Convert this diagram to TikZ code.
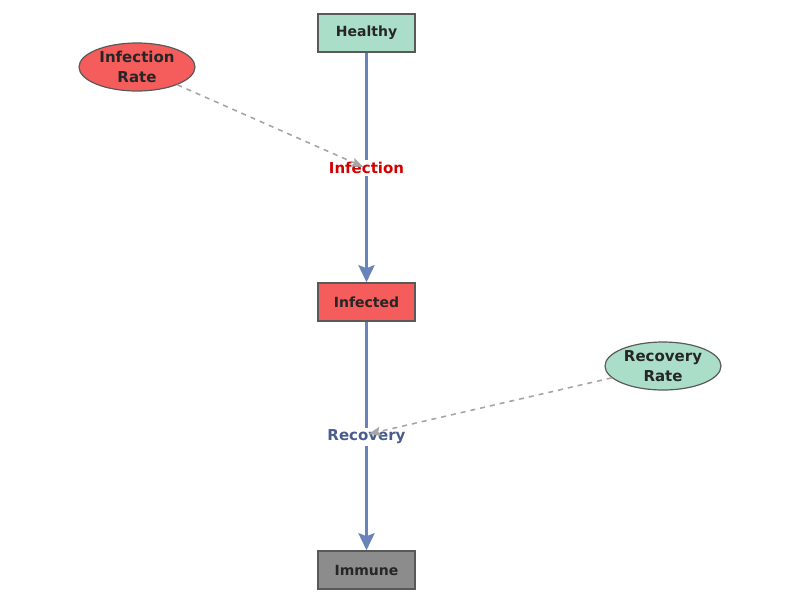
\documentclass[tikz,border=0pt]{standalone}
\usepackage{fontspec}
\setmainfont{DejaVu Sans}
\usetikzlibrary{arrows.meta, positioning, calc, shapes.geometric}

\definecolor{mint}{RGB}{170,222,200}
\definecolor{sick}{RGB}{245,92,92}
\definecolor{immunegray}{RGB}{140,140,140}
\definecolor{flowblue}{RGB}{104,132,186}
\definecolor{labelblue}{RGB}{72,92,142}
\definecolor{labelred}{RGB}{212,0,0}

\begin{document}
\begin{tikzpicture}[
  x=1pt, y=-1pt,
  stock/.style = {draw=black!65, line width=1.5pt, minimum height=38pt, minimum width=97pt,
    font=\bfseries\fontsize{14}{16}\selectfont, text=black!85},
  rate/.style = {ellipse, draw=black!65, line width=1.2pt, minimum height=48pt, minimum width=116pt,
    align=center, font=\bfseries\fontsize{15}{20}\selectfont, text=black!85, inner sep=0pt},
  flowlabel/.style = {font=\bfseries\fontsize{15}{17}\selectfont, inner sep=2pt},
  flow/.style = {draw=flowblue, line width=3.4pt},
  flowarrow/.style = {flow, -{Stealth[length=17pt, width=16pt, inset=3pt]}},
  influence/.style = {draw=black!35, line width=1.6pt, dash pattern=on 5pt off 5pt,
    -{Stealth[length=12pt, width=9pt, inset=2pt]}}
]
\useasboundingbox (0,0) rectangle (800,600);

% Stocks
\node[stock, fill=mint] (healthy) at (366.5,33) {Healthy};
\node[stock, fill=sick] (infected) at (366.5,302) {Infected};
\node[stock, fill=immunegray] (immune) at (366.5,570) {Immune};

% Flows
\node[flowlabel, text=labelred] (infection) at (366.5,168) {Infection};
\node[flowlabel, text=labelblue] (recovery) at (366.5,437) {Recovery};

% Rates
\node[rate, fill=sick] (infrate) at (137,67) {Infection\\Rate};
\node[rate, fill=mint] (recrate) at (663,366) {Recovery\\Rate};

% Flow pipes
\draw[flow] (healthy.south) -- (infection.north);
\draw[flowarrow] (infection.south) -- (infected.north);
\draw[flow] (infected.south) -- (recovery.north);
\draw[flowarrow] (recovery.south) -- (immune.north);

% Influences
\draw[influence] (infrate) -- ($(infection.center)+(-3,-1)$);
\draw[influence] (recrate) -- ($(recovery.center)+(2,-3)$);

\end{tikzpicture}
\end{document}
